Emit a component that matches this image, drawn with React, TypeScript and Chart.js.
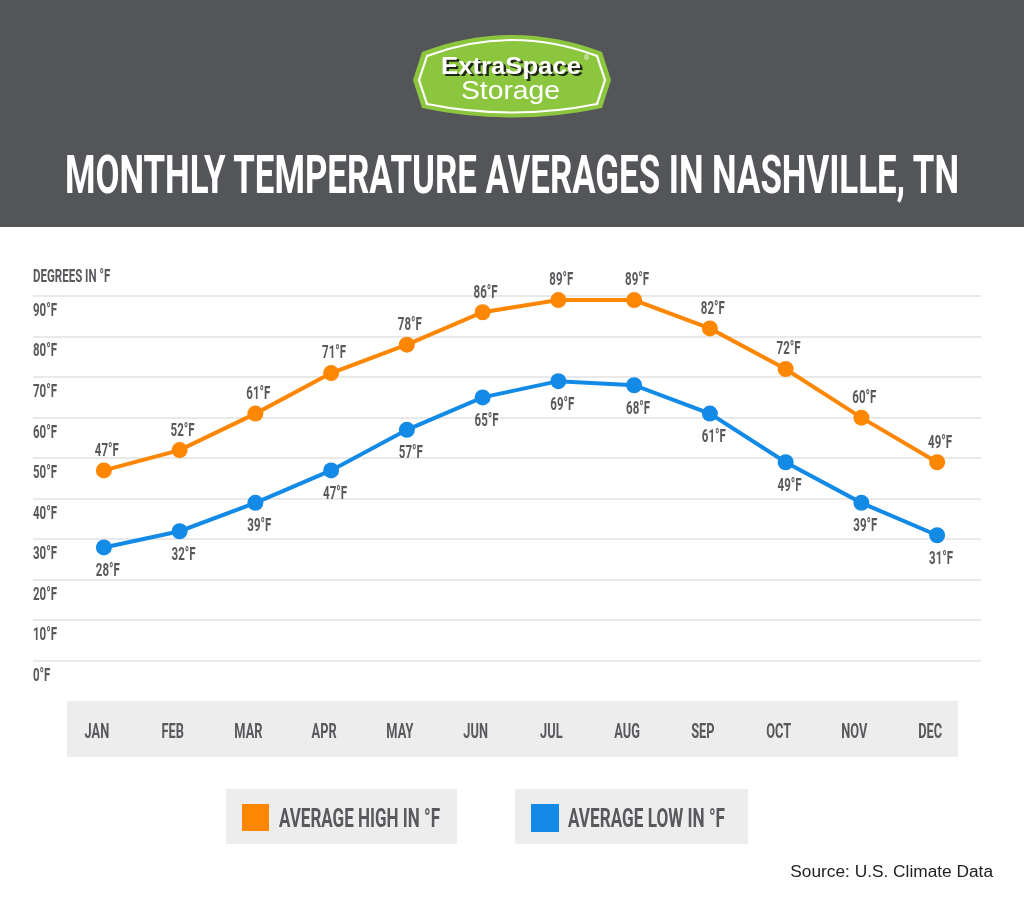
import React, { useEffect, useRef } from "react";
import { Chart, registerables } from "chart.js";

Chart.register(...registerables);

// ---- data ----
const months = ["JAN", "FEB", "MAR", "APR", "MAY", "JUN", "JUL", "AUG", "SEP", "OCT", "NOV", "DEC"];
const avgHigh = [47, 52, 61, 71, 78, 86, 89, 89, 82, 72, 60, 49];
const avgLow = [28, 32, 39, 47, 57, 65, 69, 68, 61, 49, 39, 31];
const yTicks = [0, 10, 20, 30, 40, 50, 60, 70, 80, 90];
const unit = "°F";
const seriesNames = ["AVERAGE HIGH IN °F", "AVERAGE LOW IN °F"];
const axisTitle = "DEGREES IN °F";
const chartTitle = "MONTHLY TEMPERATURE AVERAGES IN NASHVILLE, TN";
const sourceNote = "Source: U.S. Climate Data";

// ---- styles ----
const ORANGE = "#fd8602";
const BLUE = "#138ae6";
const LABEL = "#58595c";
const HEADER_BG = "#545559";
const BAND = "#ededed";
const GRID = "#e9e9e9";
const CANVAS_TOP = 227;
const CANVAS_H = 553;
const LABEL_FONT = "Roboto, 'DejaVu Sans', sans-serif";
const SQUEEZE = 0.64;

function squeezed(
  ctx: CanvasRenderingContext2D,
  text: string,
  x: number,
  centerY: number,
  size: number,
  align: CanvasTextAlign
) {
  ctx.save();
  ctx.font = `bold ${size}px ${LABEL_FONT}`;
  ctx.fillStyle = LABEL;
  ctx.textAlign = align;
  ctx.textBaseline = "alphabetic";
  ctx.translate(x, centerY + size * 0.711 * 0.5);
  ctx.scale(SQUEEZE, 1);
  ctx.fillText(text, 0, 0);
  ctx.restore();
}

// grid lines, axis band and all squeezed labels
const decorPlugin = {
  id: "decor",
  beforeDatasetsDraw(chart: any) {
    const { ctx, scales } = chart;
    const y = scales.y;
    const x = scales.x;
    ctx.save();
    // month band
    ctx.fillStyle = BAND;
    ctx.fillRect(67, 474, 891, 56);
    // horizontal grid
    ctx.strokeStyle = GRID;
    ctx.lineWidth = 2;
    yTicks.forEach((v) => {
      const py = Math.round(y.getPixelForValue(v));
      ctx.beginPath();
      ctx.moveTo(33, py);
      ctx.lineTo(981, py);
      ctx.stroke();
    });
    ctx.restore();
    // y tick labels (below each line)
    yTicks.forEach((v) => {
      squeezed(ctx, `${v}${unit}`, 33, y.getPixelForValue(v) + 13.5, 18, "left");
    });
    squeezed(ctx, axisTitle, 33, 49, 18, "left");
    // month labels
    months.forEach((m, i) => {
      squeezed(ctx, m, x.getPixelForValue(i) - 7, 504, 20, "center");
    });
  },
  afterDatasetsDraw(chart: any) {
    const { ctx, scales } = chart;
    const x = scales.x;
    const y = scales.y;
    avgHigh.forEach((v, i) => {
      squeezed(ctx, `${v}${unit}`, x.getPixelForValue(i) + 3, y.getPixelForValue(v) - 21, 18, "center");
    });
    avgLow.forEach((v, i) => {
      squeezed(ctx, `${v}${unit}`, x.getPixelForValue(i) + 4, y.getPixelForValue(v) + 22, 18, "center");
    });
  },
};

function TemperatureChart() {
  const ref = useRef<HTMLCanvasElement>(null);
  useEffect(() => {
    if (!ref.current) return;
    const chart = new Chart(ref.current, {
      type: "line",
      data: {
        labels: months,
        datasets: [
          {
            label: seriesNames[0],
            data: avgHigh,
            borderColor: ORANGE,
            backgroundColor: ORANGE,
            pointBackgroundColor: ORANGE,
            pointBorderColor: ORANGE,
            borderWidth: 4,
            pointRadius: 8,
            pointBorderWidth: 0,
            tension: 0,
            clip: false as any,
          },
          {
            label: seriesNames[1],
            data: avgLow,
            borderColor: BLUE,
            backgroundColor: BLUE,
            pointBackgroundColor: BLUE,
            pointBorderColor: BLUE,
            borderWidth: 4,
            pointRadius: 8,
            pointBorderWidth: 0,
            tension: 0,
            clip: false as any,
          },
        ],
      },
      options: {
        animation: false,
        responsive: false,
        maintainAspectRatio: false,
        events: [],
        layout: { padding: { left: 66, right: 49, top: 69, bottom: 119 } },
        plugins: {
          legend: { display: false },
          tooltip: { enabled: false },
          title: { display: false },
        },
        scales: {
          x: { type: "category", offset: true, display: false },
          y: { type: "linear", min: 0, max: 90, display: false },
        },
      },
      plugins: [decorPlugin],
    });
    return () => chart.destroy();
  }, []);
  return (
    <canvas
      ref={ref}
      width={1024}
      height={CANVAS_H}
      style={{ position: "absolute", left: 0, top: CANVAS_TOP, width: 1024, height: CANVAS_H }}
    />
  );
}

function Overlay() {
  const condensed = { fontFamily: LABEL_FONT, fontWeight: 700 } as const;
  const logoFont = "'Liberation Sans', Arial, sans-serif";
  return (
    <svg
      width={1024}
      height={898}
      style={{ position: "absolute", left: 0, top: 0, pointerEvents: "none" }}
    >
      {/* header */}
      <rect x={0} y={0} width={1024} height={CANVAS_TOP} fill={HEADER_BG} />
      {/* badge */}
      <path
        d="M 422 52 Q 512 18 602 52 L 611 80 L 602 108 Q 512 127 422 108 L 413 80 Z"
        fill="#8cc63f"
      />
      <path
        d="M 427 56 Q 512 24 597 56 L 605 80 L 597 104 Q 512 121 427 104 L 419 80 Z"
        fill="none"
        stroke="#ffffff"
        strokeWidth={2.2}
      />
      <text
        x={443.5}
        y={76}
        fill="#1f2716"
        fontFamily={logoFont}
        fontWeight={700}
        fontSize={23}
        textLength={140}
        lengthAdjust="spacingAndGlyphs"
      >
        ExtraSpace
      </text>
      <text
        x={441}
        y={74}
        fill="#ffffff"
        fontFamily={logoFont}
        fontWeight={700}
        fontSize={23}
        textLength={140}
        lengthAdjust="spacingAndGlyphs"
      >
        ExtraSpace
      </text>
      <text x={584} y={60} fill="#ffffff" fontFamily={logoFont} fontSize={7}>
        ®
      </text>
      <text
        x={461}
        y={99}
        fill="#ffffff"
        fontFamily={logoFont}
        fontSize={26}
        textLength={99}
        lengthAdjust="spacingAndGlyphs"
      >
        Storage
      </text>
      <text
        x={65}
        y={193}
        fill="#ffffff"
        style={condensed}
        fontSize={53}
        textLength={894}
        lengthAdjust="spacingAndGlyphs"
      >
        {chartTitle}
      </text>

      {/* legend */}
      <rect x={226} y={789} width={231} height={55} fill={BAND} />
      <rect x={242} y={804} width={27} height={27} fill={ORANGE} />
      <text
        x={279}
        y={827}
        fill={LABEL}
        style={condensed}
        fontSize={26}
        textLength={161}
        lengthAdjust="spacingAndGlyphs"
      >
        {seriesNames[0]}
      </text>
      <rect x={515} y={789} width={233} height={55} fill={BAND} />
      <rect x={531} y={804} width={28} height={28} fill={BLUE} />
      <text
        x={568}
        y={827}
        fill={LABEL}
        style={condensed}
        fontSize={26}
        textLength={157}
        lengthAdjust="spacingAndGlyphs"
      >
        {seriesNames[1]}
      </text>

      {/* source */}
      <text
        x={993}
        y={877}
        textAnchor="end"
        fill="#222222"
        fontFamily={logoFont}
        fontSize={17.3}
      >
        {sourceNote}
      </text>
    </svg>
  );
}

export default function App() {
  return (
    <div
      style={{
        position: "absolute",
        left: 0,
        top: 0,
        width: 1024,
        height: 898,
        background: "#ffffff",
        overflow: "hidden",
      }}
    >
      <TemperatureChart />
      <Overlay />
    </div>
  );
}
